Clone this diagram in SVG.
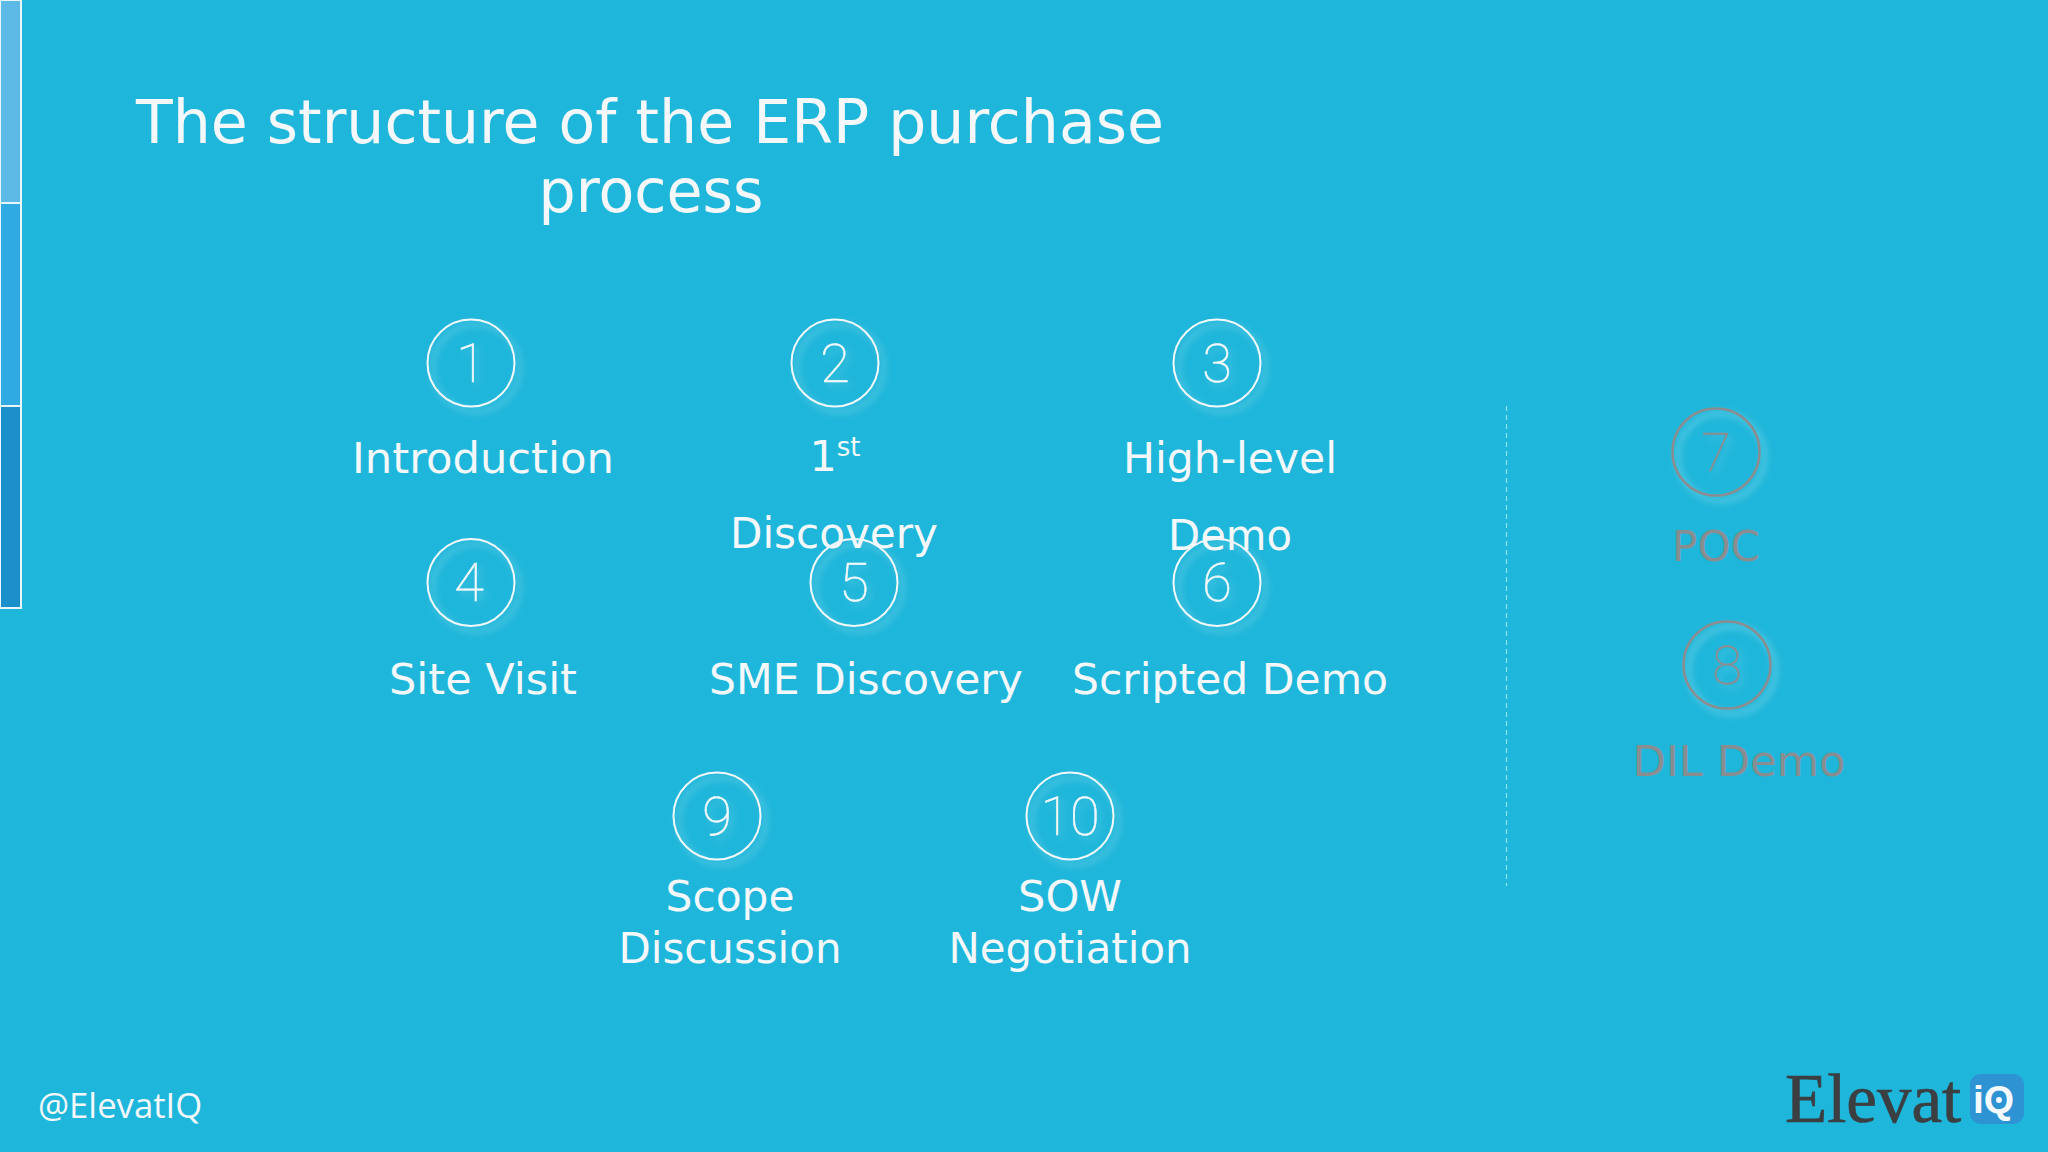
<svg xmlns="http://www.w3.org/2000/svg" width="2048" height="1152" viewBox="0 0 2048 1152">
<defs>
<filter id="glow" x="-30%" y="-30%" width="170%" height="170%">
<feDropShadow dx="5" dy="5" stdDeviation="3.5" flood-color="#ffffff" flood-opacity="0.45"/>
</filter>
<filter id="glow2" x="-40%" y="-40%" width="200%" height="200%">
<feDropShadow dx="4" dy="4" stdDeviation="3.5" flood-color="#ffffff" flood-opacity="0.22"/>
</filter>
</defs>
<style>
text{font-family:"DejaVu Sans",sans-serif;fill:#f4f8fb}
.t{font-size:60px;text-anchor:middle}
.l{font-size:43px;text-anchor:middle}
.g{fill:#8a8d90}
.d{font-family:Roboto,"Liberation Sans",sans-serif;font-weight:100;font-size:54px;text-anchor:middle;stroke:#f4f8fb;stroke-width:.6;filter:url(#glow2)}
.dg{fill:#8a8d90;stroke:#8a8d90}
.c{fill:none;stroke:#f4f8fb;stroke-width:2;filter:url(#glow)}
.gc{stroke:#8a8d90;stroke-width:2.5}
.bar{stroke:#eaf6fb;stroke-width:2}
</style>
<rect width="2048" height="1152" fill="#1eb6da"/>
<g id="sidebar">
<rect class="bar" x="0" y="0" width="21" height="203" fill="#5db9e6"/>
<rect class="bar" x="0" y="203" width="21" height="203" fill="#2faae2"/>
<rect class="bar" x="0" y="406" width="21" height="202" fill="#1c90cb"/>
</g>
<text class="t" x="650" y="143" textLength="1028" lengthAdjust="spacingAndGlyphs">The structure of the ERP purchase</text>
<text class="t" x="651" y="212" textLength="225" lengthAdjust="spacingAndGlyphs">process</text>
<g id="connectors">
<line x1="1506.5" y1="406" x2="1506.5" y2="886" stroke="#8fe2f3" stroke-width="1.2" stroke-dasharray="5 4"/>
</g>
<g id="n1"><circle class="c" cx="471" cy="363" r="43.5"/><text class="d" x="471" y="382">1</text><text class="l" x="483" y="473" textLength="262" lengthAdjust="spacingAndGlyphs">Introduction</text></g>
<g id="n2"><circle class="c" cx="835" cy="363" r="43.5"/><text class="d" x="835" y="382">2</text><text class="l" x="835" y="471">1<tspan font-size="26" dy="-15">st</tspan></text><text class="l" x="834" y="548" textLength="208" lengthAdjust="spacingAndGlyphs">Discovery</text></g>
<g id="n3"><circle class="c" cx="1217" cy="363" r="43.5"/><text class="d" x="1217" y="382">3</text><text class="l" x="1230" y="473" textLength="214" lengthAdjust="spacingAndGlyphs">High-level</text><text class="l" x="1230" y="550" textLength="124" lengthAdjust="spacingAndGlyphs">Demo</text></g>
<g id="n4"><circle class="c" cx="471" cy="582.5" r="43.5"/><text class="d" x="469" y="601">4</text><text class="l" x="483" y="694" textLength="188" lengthAdjust="spacingAndGlyphs">Site Visit</text></g>
<g id="n5"><circle class="c" cx="854" cy="582.5" r="43.5"/><text class="d" x="854" y="601">5</text><text class="l" x="866" y="694" textLength="314" lengthAdjust="spacingAndGlyphs">SME Discovery</text></g>
<g id="n6"><circle class="c" cx="1217" cy="582.5" r="43.5"/><text class="d" x="1217" y="601">6</text><text class="l" x="1230" y="694" textLength="316" lengthAdjust="spacingAndGlyphs">Scripted Demo</text></g>
<g id="n7"><circle class="c gc" cx="1716" cy="452" r="43.5"/><text class="d dg" x="1716" y="471">7</text><text class="l g" x="1716" y="561" textLength="88" lengthAdjust="spacingAndGlyphs">POC</text></g>
<g id="n8"><circle class="c gc" cx="1727" cy="665" r="43.5"/><text class="d dg" x="1727" y="684">8</text><text class="l g" x="1739" y="776" textLength="213" lengthAdjust="spacingAndGlyphs">DIL Demo</text></g>
<g id="n9"><circle class="c" cx="717" cy="816" r="43.5"/><text class="d" x="717" y="835">9</text><text class="l" x="730" y="911" textLength="129" lengthAdjust="spacingAndGlyphs">Scope</text><text class="l" x="730" y="963" textLength="223" lengthAdjust="spacingAndGlyphs">Discussion</text></g>
<g id="n10"><circle class="c" cx="1070" cy="816" r="43.5"/><text class="d" x="1070" y="835">10</text><text class="l" x="1070" y="911" textLength="104" lengthAdjust="spacingAndGlyphs">SOW</text><text class="l" x="1070" y="963" textLength="243" lengthAdjust="spacingAndGlyphs">Negotiation</text></g>
<text x="38" y="1118" style="font-family:'Open Sans',sans-serif;font-size:34.7px">@ElevatIQ</text>
<g id="logo">
<text x="1785" y="1122" style="font-family:'Liberation Serif',serif;font-size:69px;fill:#3b3f42;stroke:#3b3f42;stroke-width:.7">Elevat</text>
<rect x="1970" y="1074" width="54" height="50" rx="11" fill="#2e93d3"/>
<text x="1973" y="1113" style="font-family:'Liberation Sans',sans-serif;font-weight:700;font-size:39px;fill:#f4fafd">iQ</text>
<circle cx="1999" cy="1100" r="3" fill="#f4fafd"/>
</g>
</svg>
